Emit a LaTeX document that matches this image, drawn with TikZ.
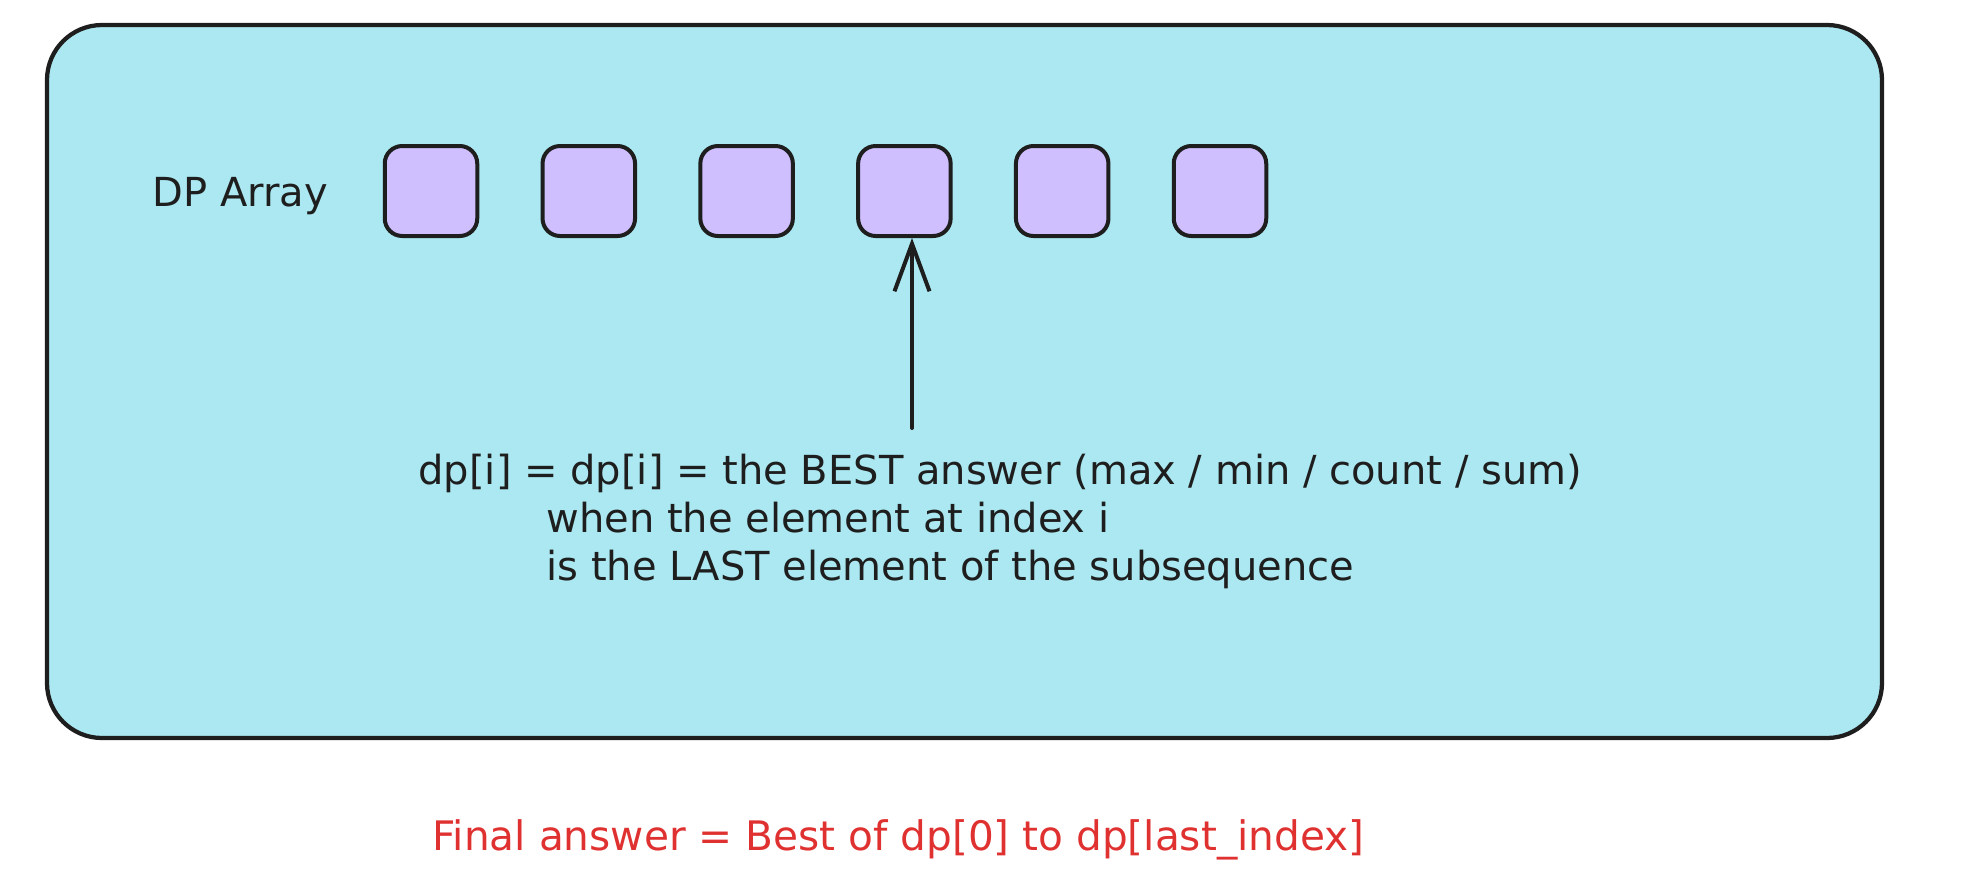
\documentclass[tikz,border=0pt]{standalone}
\usepackage{fontspec}
\setmainfont{DejaVu Sans}
\usetikzlibrary{arrows.meta}

\definecolor{sketchcyan}{HTML}{ABE8F1}
\definecolor{sketchviolet}{HTML}{D0BFFF}
\definecolor{sketchred}{HTML}{E03131}
\definecolor{sketchink}{HTML}{1E1E1E}

\begin{document}
\begin{tikzpicture}[x=0.4pt,y=-0.4pt,
		cell/.style={draw=sketchink, fill=sketchviolet, line width=1.6pt, rounded corners=7pt,
			minimum width=37pt, minimum height=36pt, inner sep=0pt},
		sketchtext/.style={font=\fontsize{16}{19.3}\selectfont, text=sketchink, inner sep=0pt}]
				\useasboundingbox (0,0) rectangle (1962,888);

				% outer frame
				\draw[draw=sketchink, fill=sketchcyan, line width=1.7pt, rounded corners=22pt] (47,25) rectangle (1882,738);

				% dp array
				\node[sketchtext, anchor=base west] (dplabel) at (152,206) {DP Array};
				\foreach \u in {1,...,6}
					{
						% cells
						\node[cell] (c\u) at ({431+157.8*(\u-1)},191) {};
					}

				% pointer to one cell
				\coordinate (ptr) at (912,428);
				\draw[draw=sketchink, line width=1.6pt, line cap=round, -{Straight Barb[length=19pt,width=14pt]}] (ptr) -- (ptr |- c4.south);

				% meaning of dp[i] (base is the last line)
				\node[sketchtext, anchor=base west, align=left] (meaning) at (418,580.5)
					{dp[i] = dp[i] = the BEST answer (max / min / count / sum)\\
					\hspace*{51.2pt}when the element at index i\\
					\hspace*{51.2pt}is the LAST element of the subsequence};

				% final answer
				\node[sketchtext, font=\fontsize{16.25}{19.3}\selectfont, text=sketchred, anchor=base west] (final) at (432,850)
					{Final answer = Best of dp[0] to dp[last\_index]};
			\end{tikzpicture}
\end{document}
